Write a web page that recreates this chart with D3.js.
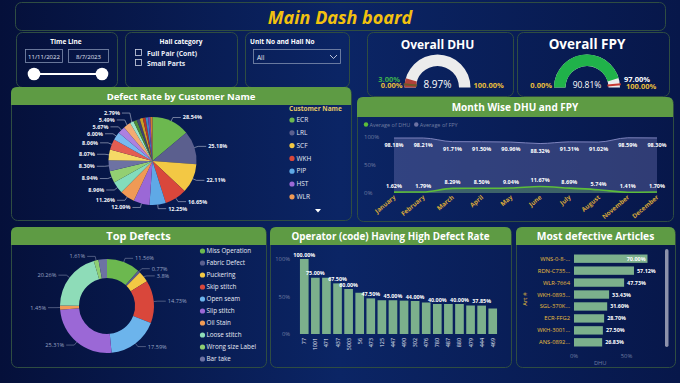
<!DOCTYPE html>
<html><head><meta charset="utf-8">
<script src="https://cdn.jsdelivr.net/npm/d3@7"></script>
<style>
html,body{margin:0;padding:0;background:#071645;overflow:hidden;}
svg{display:block;font-family:"Open Sans","Noto Sans",sans-serif;}
</style></head><body><svg id="c" width="680" height="383"></svg>
<script>
// ---------------- DATA ----------------
const titleText = "Main Dash board";
const dateFrom = "11/11/2022", dateTo = "8/7/2023";
const hallCategories = ["Full Pair (Cont)", "Small Parts"];
const unitSelection = "All";

const dhuValue = 8.97, dhuTarget = 3.00, dhuMin = 0, dhuMax = 100;
const fpyValue = 90.81, fpyTarget = 97.00, fpyMin = 0, fpyMax = 100;

const customers = ["ECR","LRL","SCF","WKH","PIP","HST","WLR","WNS","RDN","SGL","ANS","TGT","KMR","BLK","NXT","ZRA","HMG","PRM","CRV","DLT","FSH","MNG","OKS"];
const customerRate = [28.54,25.18,22.11,16.65,12.25,12.09,11.26,8.96,8.94,8.30,8.07,8.06,6.00,5.67,5.49,2.79,2.6,2.4,2.3,2.1,1.9,1.7,1.6];
const customerLegendShown = 7;

const months = ["January","February","March","April","May","June","July","August","November","December"];
const fpyByMonth = [98.18,98.21,91.71,91.50,90.96,88.32,91.31,91.02,98.59,98.30];
const dhuByMonth = [1.62,1.79,8.29,8.50,9.04,11.67,8.69,5.74,1.41,1.70];
const monthTicks = [0,50,100];

const defects = ["Miss Operation","Fabric Defect","Puckering","Skip stitch","Open seam","Slip stitch","Oil Stain","Loose stitch","Wrong size Label","Bar take"];
const defectShare = [11.56,0.77,3.8,14.73,17.59,25.31,1.45,20.26,1.61,2.92];

const operators = ["77","1001","471","437","5003","56","473","125","447","490","302","476","780","487","880","479","444","469"];
const operatorRate = [100,75,75,67.5,60,55,47.5,45,45,44.5,44,42,40,40,40,38,37.85,34];
const operatorTicks = [0,50,100];

const articles = ["WNS-0-8-...","RDN-C735...","WLR-7664","WKH-0893...","SGL-370K...","ECR-FFG2","WKH-3001...","ANS-0892..."];
const articleDhu = [70.00,57.12,47.73,33.43,31.60,28.70,27.50,26.83];
const articleTicks = [0,50];

// ---------------- STYLE ----------------
const palette = ["#6cb84f","#5b5f8e","#f3c844","#d9473b","#5fa9e6","#9b68d6","#f09a55","#83dcbc","#93cf72","#6d72a3","#f5d966","#e35d52","#77b9f0","#ad80e0","#f4ab72","#9de4cc","#4e8c36","#3f4270","#c9a126","#b5342a","#3d85c6","#7a47b8","#d07a30"];
const defectColors = ["#6cb84f","#5b5f8e","#f3c844","#d9473b","#6cb4ec","#9b68d6","#f09a55","#8edcb8","#8fce72","#6d72a3"];
const headerGreen = "#5e9b44";
const yellow = "#e9bf3c";

const svg = d3.select("#c");
const defs = svg.append("defs");
const bg = defs.append("linearGradient").attr("id","bg").attr("x1",0).attr("x2",1).attr("y1",0).attr("y2",0);
bg.append("stop").attr("offset","0%").attr("stop-color","#05103a");
bg.append("stop").attr("offset","50%").attr("stop-color","#0b2565");
bg.append("stop").attr("offset","100%").attr("stop-color","#07174a");
svg.append("rect").attr("width",680).attr("height",383).attr("fill","url(#bg)");

function panel(x,y,w,h,opts={}){
  const g = svg.append("g");
  g.append("rect").attr("x",x+.5).attr("y",y+.5).attr("width",w).attr("height",h).attr("rx",6)
    .attr("fill","none").attr("stroke","#2f4d42").attr("stroke-width",1);
  if(opts.title){
    const hh = opts.hh||18, r=6;
    g.append("path").attr("d",`M${x},${y+hh}V${y+r}Q${x},${y} ${x+r},${y}H${x+w-r}Q${x+w},${y} ${x+w},${y+r}V${y+hh}Z`).attr("fill",headerGreen);
    g.append("text").attr("x",x+w/2).attr("y",y+hh/2+0.5).attr("dy","0.35em").attr("text-anchor","middle")
      .attr("fill","#fff").attr("font-weight","bold").attr("font-size",opts.fs||10).text(opts.title);
  }
  return g;
}
function txt(g,x,y,s,o={}){
  return g.append("text").attr("x",x).attr("y",y).attr("text-anchor",o.anchor||"start")
    .attr("fill",o.fill||"#fff").attr("font-size",o.fs||7).attr("font-weight",o.fw||"normal")
    .attr("font-style",o.fst||"normal").text(s);
}

// ---------------- TITLE ----------------
panel(15,2,650,28);
txt(svg,340,24,titleText,{anchor:"middle",fill:"#f2c10f",fs:18,fw:"bold",fst:"italic"});

// ---------------- FILTERS ----------------
const f1 = panel(16,32,101,55);
txt(f1,66,44,"Time Line",{anchor:"middle",fs:6.5,fw:"bold"});
[[25,dateFrom],[68,dateTo]].forEach(([x,s],i)=>{
  const w = i?40:37;
  f1.append("rect").attr("x",x+.5).attr("y",49.5).attr("width",w).attr("height",13).attr("fill","none").attr("stroke","#8090b0").attr("stroke-width",0.8);
  txt(f1,x+w/2+.5,58.5,s,{anchor:"middle",fs:6,fill:"#e0e6f5"});
});
f1.append("line").attr("x1",34).attr("x2",102).attr("y1",74).attr("y2",74).attr("stroke","#fff").attr("stroke-width",2);
[34,102].forEach(x=>f1.append("circle").attr("cx",x).attr("cy",74).attr("r",6.3).attr("fill","#fff"));

const f2 = panel(125,32,112,55);
txt(f2,181,44,"Hall category",{anchor:"middle",fs:6.5,fw:"bold"});
hallCategories.forEach((c,i)=>{
  f2.append("rect").attr("x",135.5).attr("y",49.5+i*10).attr("width",6).attr("height",6).attr("fill","none").attr("stroke","#d0d6e6").attr("stroke-width",0.8);
  txt(f2,147,55.5+i*10,c,{fs:6.8,fw:"bold",fill:"#e8ecf6"});
});

const f3 = panel(245,32,104,55);
txt(f3,250,44,"Unit No and Hall No",{fs:6.5,fw:"bold"});
f3.append("rect").attr("x",253.5).attr("y",49.5).attr("width",87).attr("height",14).attr("fill","none").attr("stroke","#8090b0").attr("stroke-width",0.8);
txt(f3,257,60,unitSelection,{fs:6.5,fill:"#e8ecf6"});
f3.append("path").attr("d","M330,55 L333.5,58.5 L337,55").attr("fill","none").attr("stroke","#d0d6e6").attr("stroke-width",0.9);

// ---------------- GAUGES ----------------
function gauge(x,y,w,h,title,tfs,cx,cy,val,target,vmin,vmax,fillCol,restCol,targetCol,valFs,opts){
  const g = panel(x,y,w,h);
  txt(g,cx,y+17,title,{anchor:"middle",fs:tfs,fw:"bold"});
  const R=33, r=21.5;
  const sc = d3.scaleLinear().domain([vmin,vmax]).range([-Math.PI/2,Math.PI/2]);
  const a = d3.arc().innerRadius(r).outerRadius(R);
  const gg = g.append("g").attr("transform",`translate(${cx},${cy})`);
  gg.append("path").attr("d",a({startAngle:sc(vmin),endAngle:sc(vmax)})).attr("fill",restCol);
  gg.append("path").attr("d",a({startAngle:sc(vmin),endAngle:sc(val)})).attr("fill",fillCol);
  const ta = sc(target);
  gg.append("line").attr("x1",(r-1)*Math.sin(ta)).attr("y1",-(r-1)*Math.cos(ta)).attr("x2",(R+1)*Math.sin(ta)).attr("y2",-(R+1)*Math.cos(ta))
    .attr("stroke",targetCol).attr("stroke-width",2);
  txt(g,cx,cy,val.toFixed(2)+"%",{anchor:"middle",fs:valFs});
  txt(g,cx-R-2,cy+0.5,vmin.toFixed(2)+"%",{anchor:"end",fs:7.5,fw:"bold",fill:yellow});
  txt(g,cx+R+3+(opts.maxDx||0),cy+0.5+(opts.maxDy||0),vmax.toFixed(2)+"%",{anchor:"start",fs:7.5,fw:"bold",fill:yellow});
  txt(g,opts.tx,opts.ty,target.toFixed(2)+"%",{anchor:opts.tanchor,fs:7.5,fw:"bold",fill:opts.tcol});
}
gauge(367,32,146,64,"Overall DHU",12,437.5,87.5,dhuValue,dhuTarget,dhuMin,dhuMax,"#b0413a","#ececec","#6d5a2a",10,
  {tx:400,ty:82,tanchor:"end",tcol:"#3cb04e"});
gauge(517,32,152,64,"Overall FPY",13.5,587,87.5,fpyValue,fpyTarget,fpyMin,fpyMax,"#20b24a","#ececec","#c83a32",8.5,
  {tx:624,ty:82,tanchor:"start",tcol:"#ffffff",maxDx:3,maxDy:1});

// ---------------- PIE LABEL HELPER ----------------
function pieLabels(g, arcs, r, fmt, o){
  const items = arcs.filter(d=>d.data>=(o.minVal||0)).map((d,i)=>{
    const a=(d.startAngle+d.endAngle)/2, s=Math.sin(a), c=Math.cos(a);
    return {i,a,side:s>=0?1:-1, ix:(r+4)*s, iy:-(r+4)*c, rx:r*s, ry:-r*c, t:fmt(d,i)};
  });
  const placed=[];
  let prev=-1e9;
  items.filter(d=>d.side>0).sort((a,b)=>a.a-b.a).forEach(d=>{
    const y=Math.max(d.iy,prev+o.gap);
    if(y-d.iy>o.maxShift) return;
    d.y=y; prev=y; placed.push(d);
  });
  prev=1e9;
  items.filter(d=>d.side<0).sort((a,b)=>a.a-b.a).forEach(d=>{
    const y=Math.min(d.iy,prev-o.gap);
    if(d.iy-y>o.maxShift) return;
    d.y=y; prev=y; placed.push(d);
  });
  placed.forEach(d=>{
    const ex = d.ix + d.side*(o.off-2);
    g.append("polyline").attr("points",`${d.rx},${d.ry} ${d.ix},${d.y} ${ex},${d.y}`)
      .attr("fill","none").attr("stroke",o.line).attr("stroke-width",0.6);
    g.append("text").attr("x",d.ix+d.side*o.off).attr("y",d.y).attr("dy","0.35em")
      .attr("text-anchor",d.side>0?"start":"end").attr("fill",o.col).attr("font-size",o.fs)
      .attr("font-weight",o.fw).text(d.t);
  });
}

// ---------------- DEFECT RATE BY CUSTOMER ----------------
const p1 = panel(11,87,340,133,{title:"Defect Rate by Customer Name",fs:9.5});
const pieR = 44;
const custArcs = d3.pie().sort(null).value(d=>d)(customerRate);
const pg = p1.append("g").attr("transform","translate(152.5,161)");
pg.selectAll("path").data(custArcs).join("path").attr("d",d3.arc().innerRadius(0).outerRadius(pieR)).attr("fill",(d,i)=>palette[i]);
pieLabels(pg,custArcs,pieR,d=>d.data.toFixed(2)+"%",{gap:6.9,maxShift:20,minVal:2.7,off:10,fs:5.5,fw:"bold",col:"#f2f4fa",line:"#b8bfd4"});
txt(p1,289,111,"Customer Name",{fs:6.5,fw:"bold",fill:"#e3c766"});
const lg1 = p1.selectAll("g.cl").data(customers.slice(0,customerLegendShown)).join("g").attr("class","cl")
  .attr("transform",(d,i)=>`translate(292,${120+i*12.8})`);
lg1.append("circle").attr("r",2.6).attr("fill",(d,i)=>palette[i]);
lg1.append("text").attr("x",4.5).attr("dy","0.35em").attr("font-size",6.5).attr("fill","#e6eaf4").text(d=>d);
p1.append("path").attr("d","M315,209 L321,209 L318,212.5 Z").attr("fill","#fff");

// ---------------- MONTH WISE DHU & FPY ----------------
const p2 = panel(357,97,316,124,{title:"Month Wise DHU and FPY",fs:10,hh:20});
const mx = d3.scalePoint().domain(months).range([394,657]);
const my = d3.scaleLinear().domain([0,100]).range([193,137]);
const lgd = [["Average of DHU","#5cbd3a"],["Average of FPY","#6d72a3"]];
let lx=364;
lgd.forEach(([s,c])=>{
  p2.append("circle").attr("cx",lx+2).attr("cy",124.5).attr("r",2.2).attr("fill",c);
  const t=txt(p2,lx+5.5,126.5,s,{fs:5.5,fill:"#6f7ca0"});
  lx += 5.5 + t.node().getComputedTextLength()+4;
});
monthTicks.forEach(v=>txt(p2,364,my(v)+2,v+"%",{fs:6,fill:"#6f7ca0"}));
const fpyArea = d3.area().x((d,i)=>mx(months[i])).y0(my(0)).y1(d=>my(d)).curve(d3.curveMonotoneX);
const fpyLine = d3.line().x((d,i)=>mx(months[i])).y(d=>my(d)).curve(d3.curveMonotoneX);
p2.append("path").attr("d",fpyArea(fpyByMonth)).attr("fill","#6a70ad").attr("fill-opacity",0.42);
p2.append("path").attr("d",fpyLine(fpyByMonth)).attr("fill","none").attr("stroke","#7d83bd").attr("stroke-width",1);
p2.append("path").attr("d",fpyArea(dhuByMonth)).attr("fill","#5cbd3a").attr("fill-opacity",0.28);
p2.append("path").attr("d",fpyLine(dhuByMonth)).attr("fill","none").attr("stroke","#5cbd3a").attr("stroke-width",1.6);
fpyByMonth.forEach((v,i)=>txt(p2,mx(months[i]),my(v)+9,v.toFixed(2)+"%",{anchor:"middle",fs:5.5,fw:"bold"}));
dhuByMonth.forEach((v,i)=>txt(p2,mx(months[i]),my(v)-4,v.toFixed(2)+"%",{anchor:"middle",fs:5.5,fw:"bold"}));
months.forEach(m=>{
  p2.append("text").attr("transform",`translate(${mx(m)+2},${198}) rotate(-40)`).attr("text-anchor","end")
    .attr("font-size",6.3).attr("font-weight","bold").attr("fill","#d6a63a").text(m);
});

// ---------------- TOP DEFECTS ----------------
const p3 = panel(11,227,255,140,{title:"Top Defects",fs:11});
const dArcs = d3.pie().sort(null).value(d=>d)(defectShare);
const dg = p3.append("g").attr("transform","translate(107,306)");
dg.selectAll("path").data(dArcs).join("path").attr("d",d3.arc().innerRadius(28).outerRadius(47)).attr("fill",(d,i)=>defectColors[i]);
pieLabels(dg,dArcs,47,d=>d3.format(".2~f")(d.data)+"%",{gap:7.2,maxShift:4,off:10,fs:5.6,fw:"normal",col:"#9aa4c4",line:"#7d87a6"});
const lg2 = p3.selectAll("g.dl").data(defects).join("g").attr("class","dl").attr("transform",(d,i)=>`translate(202.5,${251+i*12})`);
lg2.append("circle").attr("r",2.6).attr("fill",(d,i)=>defectColors[i]);
lg2.append("text").attr("x",4).attr("dy","0.35em").attr("font-size",6.3).attr("fill","#e6eaf4").text(d=>d);

// ---------------- OPERATOR BARS ----------------
const p4 = panel(270,227,241,140,{title:"Operator (code) Having High Defect Rate",fs:9.8});
const ox = d3.scaleBand().domain(operators).range([299.5,497.5]).paddingInner(0.22).paddingOuter(0.04);
const oy = d3.scaleLinear().domain([0,100]).range([334,259]);
operatorTicks.forEach(v=>txt(p4,290,oy(v)+2,v+"%",{anchor:"end",fs:5.8,fill:"#6f7ca0"}));
p4.selectAll("rect.b").data(operatorRate).join("rect").attr("class","b")
  .attr("x",(d,i)=>ox(operators[i])).attr("width",ox.bandwidth()).attr("y",d=>oy(d)).attr("height",d=>oy(0)-oy(d)).attr("fill","#7cb08c");
const boxes=[];
operatorRate.forEach((v,i)=>{
  const cx = ox(operators[i])+ox.bandwidth()/2, y=oy(v)-2.5;
  const t = txt(p4,cx,y,v.toFixed(2)+"%",{anchor:"middle",fs:5.4,fw:"bold"});
  const w = t.node().getComputedTextLength();
  const b = {x0:cx-w/2,x1:cx+w/2,y0:y-5.5,y1:y};
  if(boxes.some(q=>b.x0<q.x1 && b.x1>q.x0 && b.y0<q.y1-0.5 && b.y1>q.y0+0.5)){ t.remove(); return; }
  boxes.push(b);
});
operators.forEach(o=>{
  p4.append("text").attr("transform",`translate(${ox(o)+ox.bandwidth()/2+2},338) rotate(-90)`).attr("text-anchor","end")
    .attr("font-size",5.4).attr("fill","#e6eaf4").text(o);
});

// ---------------- MOST DEFECTIVE ARTICLES ----------------
const p5 = panel(516,227,159,140,{title:"Most defective Articles",fs:10.3});
const ay = d3.scaleBand().domain(articles).range([254.5,346.5]).paddingInner(0.3);
const ax = d3.scaleLinear().domain([0,100]).range([574,679]);
p5.selectAll("rect.a").data(articleDhu).join("rect").attr("class","a")
  .attr("x",ax(0)).attr("y",(d,i)=>ay(articles[i])).attr("height",ay.bandwidth()).attr("width",d=>ax(d)-ax(0)).attr("fill","#7cb08c");
const scrollX = 665;
articleDhu.forEach((v,i)=>{
  const yc = ay(articles[i])+ay.bandwidth()/2;
  txt(p5,570,yc+2,articles[i],{anchor:"end",fs:5.8,fill:yellow});
  const t = txt(p5,ax(v)+3,yc+2,v.toFixed(2)+"%",{fs:5.4,fw:"bold"});
  const w = t.node().getComputedTextLength();
  if(ax(v)+3+w>scrollX-2){ t.attr("x",ax(v)-2).attr("text-anchor","end"); }
});
p5.append("text").attr("transform","translate(527,299) rotate(-90)").attr("text-anchor","middle").attr("font-size",5.8).attr("fill",yellow).text("Art #");
articleTicks.forEach(v=>txt(p5,ax(v),358,v+"%",{anchor:"middle",fs:5.8,fill:"#6f7ca0"}));
txt(p5,ax(25),365,"DHU",{anchor:"middle",fs:5.8,fill:"#6f7ca0"});
p5.append("rect").attr("x",scrollX).attr("y",249).attr("width",3.5).attr("height",98).attr("rx",1.75).attr("fill","#8d92ab");
</script></body></html>
